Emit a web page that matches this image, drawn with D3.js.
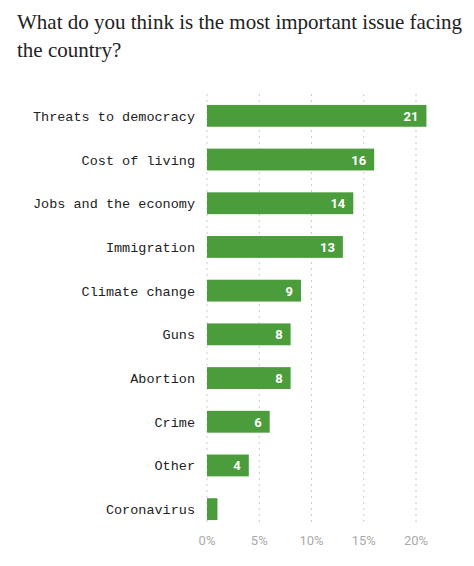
<!DOCTYPE html>
<html><head><meta charset="UTF-8">
<script src="https://cdnjs.cloudflare.com/ajax/libs/d3/7.8.4/d3.min.js"></script>
<style>body{margin:0;background:#fff}</style>
</head><body><svg width="474" height="566"></svg>
<script>
const issues = ["Threats to democracy","Cost of living","Jobs and the economy","Immigration","Climate change","Guns","Abortion","Crime","Other","Coronavirus"];
const shares = [21,16,14,13,9,8,8,6,4,1];
const ticks = [0,5,10,15,20];

const svg = d3.select("svg");
svg.append("text").attr("x",17).attr("y",29).attr("font-family","Liberation Serif, serif").attr("font-size",21).attr("fill","#222")
  .text("What do you think is the most important issue facing");
svg.append("text").attr("x",17).attr("y",57).attr("font-family","Liberation Serif, serif").attr("font-size",21).attr("fill","#222")
  .text("the country?");

const x = d3.scaleLinear().domain([0,20]).range([207,416]);
const y = d3.scaleBand().domain(issues).range([94,531]).paddingInner(0.5).paddingOuter(0.25);

svg.selectAll(".grid").data(ticks).enter().append("line")
  .attr("x1",d=>x(d)).attr("x2",d=>x(d)).attr("y1",94).attr("y2",524)
  .attr("stroke","#ccc").attr("stroke-dasharray","2,4");

svg.selectAll(".bar").data(issues).enter().append("rect")
  .attr("x",x(0)).attr("y",d=>y(d)).attr("height",y.bandwidth())
  .attr("width",(d,i)=>x(shares[i])-x(0)).attr("fill","#4a9d3a");

svg.selectAll(".lab").data(issues).enter().append("text")
  .attr("x",195).attr("y",d=>y(d)+y.bandwidth()/2+5).attr("text-anchor","end")
  .attr("font-family","Liberation Mono, monospace").attr("font-size",13.5).attr("fill","#222").text(d=>d);

svg.selectAll(".val").data(issues.filter((d,i)=>shares[i]>=4)).enter().append("text")
  .attr("x",(d)=>x(shares[issues.indexOf(d)])-8).attr("y",d=>y(d)+y.bandwidth()/2+5)
  .attr("text-anchor","end").attr("font-family","Roboto, sans-serif").attr("font-weight","bold")
  .attr("font-size",13).attr("fill","#fff").text(d=>shares[issues.indexOf(d)]);

svg.selectAll(".tick").data(ticks).enter().append("text")
  .attr("x",d=>x(d)).attr("y",545).attr("text-anchor","middle")
  .attr("font-family","Roboto, sans-serif").attr("font-size",13).attr("fill","#aaa").text(d=>d+"%");
</script></body></html>
